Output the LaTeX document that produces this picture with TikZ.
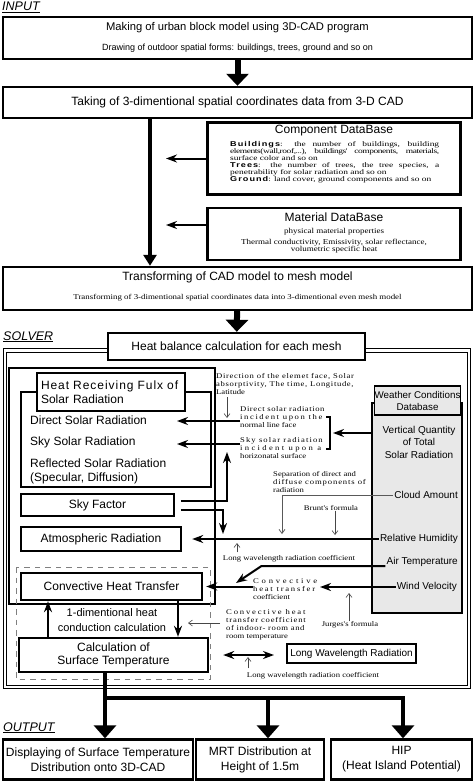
\documentclass[tikz,border=0pt]{standalone}
\usepackage{fontspec}
\setmainfont{Liberation Sans}
\newfontfamily\annot[FakeStretch=1.2]{Liberation Serif}
\newfontfamily\dbfont[FakeStretch=1.35]{Liberation Serif}
\newfontfamily\dbbold[LetterSpace=15,FakeStretch=1.3]{Liberation Sans}
\usetikzlibrary{arrows.meta}
\newcommand{\lsp}[2]{{\addfontfeature{LetterSpace=#1}#2}}
\newcommand{\jline}[2]{\makebox[#1][s]{#2}}
\newcommand{\tightlines}{\setlength{\lineskiplimit}{-5pt}}
\tikzset{
    mainbox/.style = {draw, line width=2.4pt, fill=white, inner sep=0pt},
    thinbox/.style = {draw, line width=1.4pt, fill=white, inner sep=0pt},
    greybox/.style = {draw, line width=1.1pt, fill=gray!18, inner sep=0pt},
    headtext/.style = {font=\fontsize{12.5}{14}\selectfont\itshape, inner sep=0pt},
    bigtext/.style = {font=\fontsize{12}{14}\selectfont},
    midtext/.style = {font=\fontsize{10}{12.5}\selectfont, inner sep=1pt},
    outtext/.style = {font=\fontsize{12}{15}\selectfont},
    smalltext/.style = {font=\fontsize{9}{11}\selectfont},
    note/.style = {font=\annot\fontsize{7.2}{8}\selectfont, inner sep=0pt, align=left},
    dbtext/.style = {font=\dbfont\fontsize{7}{7}\selectfont\tightlines, inner sep=0pt, align=left},
    mattext/.style = {font=\annot\fontsize{7.5}{7}\selectfont\tightlines, inner sep=0pt},
    meshtext/.style = {font=\annot\fontsize{7.4}{9}\selectfont, inner sep=0pt},
    bigarr/.style = {line width=6pt, -{Triangle[width=22pt,length=12pt]}},
    colarr/.style = {line width=3.5pt, -{Triangle[width=13pt,length=11pt]}},
    outarr/.style = {line width=4.5pt, -{Triangle[width=22pt,length=13pt]}},
    outbar/.style = {line width=4.5pt, line cap=rect},
    arr/.style = {line width=2pt, -{Stealth[width=8pt,length=11pt]}},
    dblarr/.style = {line width=2pt, {Stealth[width=8pt,length=11pt]}-{Stealth[width=8pt,length=11pt]}},
    thinarr/.style = {draw=gray!55!black, line width=0.6pt, -{Straight Barb[width=6pt,length=4pt]}},
    greyline/.style = {draw=gray!70!black, line width=0.8pt, -{Straight Barb[width=6pt,length=4pt]}},
}
\begin{document}
\begin{tikzpicture}[x=1pt,y=-1pt]
    \useasboundingbox (0,0) rectangle (474,781);

    % Input
    \node[headtext, anchor=base west] (lblIn) at (2,11) {\underline{INPUT}};
    \node[mainbox, minimum width=469pt, minimum height=42pt] (cad) at (237.5,38) {};
    \node[font=\fontsize{11.2}{13}\selectfont] (cadT) at (237.5,28) {Making of urban block model using 3D-CAD program};
    \node[smalltext] (cadS) at (237.5,48) {Drawing of outdoor spatial forms: buildings, trees, ground and so on};
    \node[mainbox, bigtext, minimum width=469pt, minimum height=31pt] (take) at (237.5,102.5) {Taking of 3-dimentional spatial coordinates data from 3-D CAD};

    % Databases
    \node[mainbox, minimum width=253pt, minimum height=72pt] (compdb) at (334,158.5) {};
    \node[bigtext] (compT) at (334,130.5) {Component DataBase};
    \node[dbtext, anchor=north west] (compB) at (230,141.5) {\jline{209pt}{{\dbbold\bfseries Buildings}: the number of buildings, building}\\
        \jline{209pt}{\lsp{-6}{elements(wall,roof,...), buildings' components, materials,}}\\
        surface color and so on\\
        \jline{209pt}{{\dbbold\bfseries Trees}: the number of trees, the tree species, a}\\
        penetrability for solar radiation and so on\\
        {\dbbold\bfseries Ground}: land cover, ground components and so on};
    \node[mainbox, minimum width=253pt, minimum height=52pt] (matdb) at (334,234) {};
    \node[bigtext] (matT) at (334,217) {Material DataBase};
    \node[mattext] (matS) at (334,232) {physical material properties};
    \node[mattext, align=center] (matB) at (334,246.5) {Thermal conductivity, Emissivity, solar reflectance,\\volumetric specific heat};

    % Mesh
    \node[mainbox, minimum width=469pt, minimum height=43pt] (mesh) at (237.5,288.5) {};
    \node[bigtext] (meshT) at (237.5,277) {Transforming of CAD model to mesh model};
    \node[meshtext] (meshS) at (237.5,298) {Transforming of 3-dimentional spatial coordinates data into 3-dimentional even mesh model};

    \coordinate (dbline) at (150,190);
    \draw[bigarr] (cad) -- (take);
    \draw[colarr] (take.south -| dbline) -- (mesh.north -| dbline);
    \draw[arr, shorten >=16pt] (compdb.west) -- (compdb.west -| dbline);
    \draw[arr, shorten >=16pt] ([yshift=9pt]matdb.west) -- ([yshift=9pt]matdb.west -| dbline);

    % Solver frame
    \node[headtext, anchor=base west] (lblSol) at (3,340) {\underline{SOLVER}};
    \draw[line width=0.8pt] (3,348) rectangle (470,688);
    \draw[line width=0.8pt] (6,352) rectangle (467,685);
    \node[mainbox, bigtext, minimum width=257pt, minimum height=27pt] (heat) at (236.5,346.5) {Heat balance calculation for each mesh};
    \draw[bigarr] (mesh) -- (heat);

    % Left column
    \draw[line width=1.2pt] (9,368) rectangle (215,604);
    \node[mainbox, minimum width=190pt, minimum height=95pt] (solar) at (116,439.5) {};
    \node[thinbox, bigtext, minimum width=148pt, minimum height=38pt, text width=140pt, align=left] (flux) at (111,392) {\lsp{8}{Heat Receiving Fulx of}\\Solar Radiation};
    \node[bigtext, anchor=west, inner sep=1pt] (tDirect) at (29,420) {Direct Solar Radiation};
    \node[bigtext, anchor=west, inner sep=1pt] (tSky) at (29,442) {Sky Solar Radiation};
    \node[bigtext, anchor=north west, align=left, inner sep=1pt] (tRefl) at (29,457.5) {Reflected Solar Radiation\\(Specular, Diffusion)};
    \node[thinbox, bigtext, line width=1.6pt, minimum width=153pt, minimum height=22pt] (skyf) at (97.5,505) {Sky Factor};
    \node[mainbox, bigtext, minimum width=160pt, minimum height=24pt] (atmo) at (101,539) {Atmospheric Radiation};
    \draw[gray, line width=0.9pt, dash pattern=on 5.5pt off 5pt] (16,567) rectangle (210,679);
    \node[mainbox, bigtext, minimum width=181pt, minimum height=27pt] (conv) at (111.5,586.5) {Convective Heat Transfer};
    \node[mainbox, font=\fontsize{12}{13}\selectfont, align=center, minimum width=189pt, minimum height=34pt] (calc) at (113.5,655) {Calculation of\\Surface Temperature};
    \node[font=\fontsize{11}{15}\selectfont, align=center] (tCond) at (112,620) {1-dimentional heat\\conduction calculation};
    \coordinate (cUp) at (48,620);
    \coordinate (cDn) at (178,620);
    \draw[arr] (calc.north -| cUp) -- (conv.south -| cUp);
    \draw[arr] (conv.south -| cDn) -- (calc.north -| cDn);

    % Weather conditions
    \node[greybox, minimum width=90pt, minimum height=210pt] (weather) at (417,508) {};
    \node[greybox, font=\fontsize{9.8}{12}\selectfont, align=center, minimum width=85pt, minimum height=29pt] (whead) at (417.5,400.5) {Weather Conditions\\Database};
    \node[midtext, align=center] (wVert) at (419,442) {Vertical Quantity\\of Total\\Solar Radiation};
    \node[midtext, anchor=east] (wCloud) at (459,495) {Cloud Amount};
    \node[midtext, anchor=east] (wHum) at (459,539) {Relative Humidity};
    \node[midtext, anchor=east] (wAir) at (459,562) {Air Temperature};
    \node[midtext, anchor=east] (wWind) at (458,587) {Wind Velocity};

    % Notes
    \node[note, anchor=north west] (nDir) at (216,373.5) {\lsp{9}{Direction of the elemet face, Solar}\\\lsp{9}{absorptivity, The time, Longitude,}\\Latitude};
    \node[note, anchor=north west] (nDirect) at (240,406.5) {\lsp{8}{Direct solar radiation}\\\lsp{22}{incident upon the}\\normal line face};
    \node[note, anchor=north west] (nSkyS) at (240,437.5) {\lsp{15}{Sky solar radiation}\\\lsp{32}{incident upon a}\\horizonatal surface};
    \node[note, anchor=north west] (nSep) at (273,471.5) {Separation of direct and\\\lsp{12}{diffuse components of}\\radiation};
    \node[note] (nBrunt) at (331,508) {Brunt's formula};
    \node[note] (nLong1) at (289,559) {Long wavelength radiation coefficient};
    \node[note, anchor=north west] (nConv) at (253,578.5) {\lsp{38}{Convective}\\\lsp{24}{heat transfer}\\coefficient};
    \node[note, anchor=north west] (nIndoor) at (226,609.5) {\lsp{25}{Convective heat}\\\lsp{11}{transfer coefficient}\\\lsp{8}{of indoor- room and}\\room temperature};
    \node[note] (nJurges) at (350,625) {Jurges's formula};
    \node[note] (nLong2) at (313,676) {Long wavelength radiation coefficient};
    \node[mainbox, midtext, line width=2pt, minimum width=129pt, minimum height=19pt] (lwr) at (351.5,653.5) {Long Wavelength Radiation};

    % Solver connectors
    \coordinate (dirDown) at (227,418);
    \coordinate (dirTip) at (177,421);
    \coordinate (skyTip) at (177,444);
    \coordinate (brk) at (333,433);
    \coordinate (upTip) at (227,452);
    \coordinate (downTip) at (223,534);
    \coordinate (cloudTip) at (282,534);
    \coordinate (bruntTip) at (335,535);
    \coordinate (l1Tip) at (237,543);
    \coordinate (airTip) at (236,583);
    \coordinate (windTip) at (320,588);
    \coordinate (jTip) at (349,593);
    \coordinate (inTip) at (188,623);
    \coordinate (l2Tip) at (248,657);
    \draw[thinarr, shorten <=2pt] (dirDown |- nDir.south) -- (dirDown);
    \draw[arr] (nDirect.west |- dirTip) -- (dirTip);
    \draw[arr] (nSkyS.west |- skyTip) -- (skyTip);
    \draw[line width=1.1pt] (326,417) -- (330,417) -- (330,449) -- (326,449);
    \draw[arr] (weather.west |- brk) -- (brk);
    \draw[arr, shorten <=6pt] ([yshift=4pt]skyf.east) -| (upTip);
    \draw[arr, shorten <=6pt] ([yshift=-5pt]skyf.east) -| (downTip);
    \draw[greyline] (wCloud.west) -| (cloudTip);
    \draw[thinarr] (bruntTip |- nBrunt.south) -- (bruntTip);
    \draw[arr, shorten >=10pt] (wHum.west) -- (wHum.west -| atmo.east);
    \draw[thinarr, shorten <=3pt] (l1Tip |- nLong1.north) -- (l1Tip);
    \draw[arr] ([yshift=-4pt]wAir.west) -- ++(-124,0) -- (airTip);
    \draw[arr] (wWind.west) -- (wWind.west -| windTip);
    \draw[arr, shorten >=3pt] (nConv.west |- conv.east) -- (conv.east);
    \draw[thinarr] (jTip |- nJurges.north) -- (jTip);
    \draw[thinarr] ([xshift=-6pt]nIndoor.west |- inTip) -- (inTip);
    \draw[dblarr, shorten <=14pt, shorten >=12pt] (calc.east) -- (calc.east -| lwr.west);
    \draw[thinarr, shorten <=4pt] (l2Tip |- nLong2.north) -- (l2Tip);

    % Output
    \node[headtext, anchor=base west] (lblOut) at (3,731) {\underline{OUTPUT}};
    \node[mainbox, outtext, align=center, minimum width=190pt, minimum height=40pt] (disp) at (98,759.5) {Displaying of Surface Temperature\\Distribution onto 3D-CAD};
    \node[mainbox, outtext, align=center, minimum width=128pt, minimum height=40pt] (mrt) at (260,759.5) {MRT Distribution at\\Height of 1.5m};
    \node[mainbox, outtext, align=center, minimum width=141pt, minimum height=40pt] (hip) at (401.5,759.5) {HIP\\(Heat Island Potential)};
    \coordinate (splitL) at (105,698);
    \coordinate (splitM) at (268,698);
    \coordinate (splitR) at (403,698);
    \draw[outbar] (calc.south -| splitL) -- (splitL) -- (splitR);
    \draw[outarr] (splitL) -- (splitL |- disp.north);
    \draw[outarr] (splitM) -- (splitM |- mrt.north);
    \draw[outarr] (splitR) -- (splitR |- hip.north);

\end{tikzpicture}
\end{document}
